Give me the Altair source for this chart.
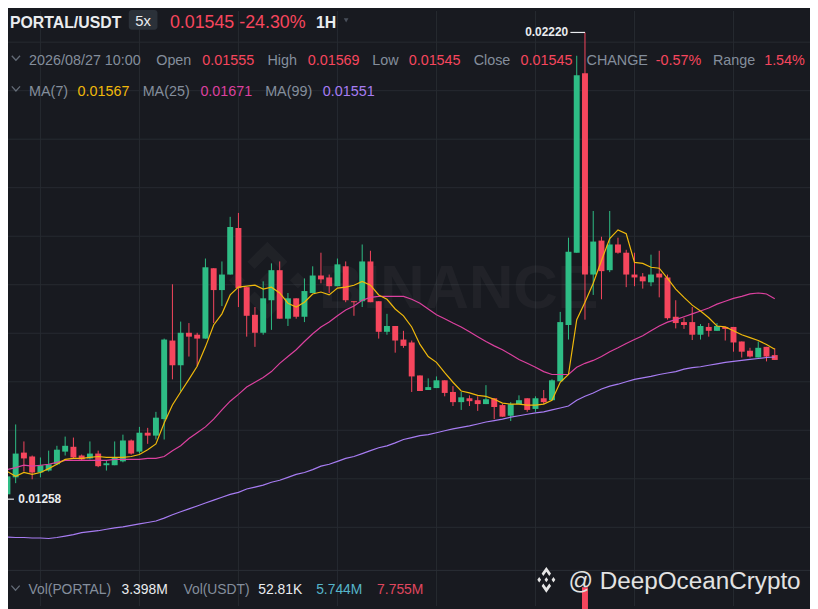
import altair as alt
import pandas as pd

# ---------------- values ----------------
candle_index = list(range(95))

open_price = [
    0.01295, 0.01268, 0.01303, 0.01354, 0.01346, 0.01313, 0.01317, 0.01330, 0.01356, 0.01366,
    0.01348, 0.01342, 0.01352, 0.01328, 0.01328, 0.01336, 0.01379, 0.01356, 0.01395, 0.01389,
    0.01423, 0.01585, 0.01534, 0.01601, 0.01597, 0.01589, 0.01734, 0.01689, 0.01721, 0.01817,
    0.01695, 0.01638, 0.01601, 0.01668, 0.01730, 0.01630, 0.01672, 0.01634, 0.01683, 0.01719,
    0.01715, 0.01697, 0.01738, 0.01666, 0.01666, 0.01748, 0.01666, 0.01603, 0.01615, 0.01587,
    0.01581, 0.01513, 0.01483, 0.01487, 0.01503, 0.01479, 0.01458, 0.01466, 0.01462, 0.01454,
    0.01466, 0.01452, 0.01430, 0.01454, 0.01466, 0.01444, 0.01466, 0.01462, 0.01501, 0.01617,
    0.01766, 0.02136, 0.01721, 0.01791, 0.01730, 0.01783, 0.01766, 0.01721, 0.01717, 0.01705,
    0.01723, 0.01715, 0.01634, 0.01623, 0.01623, 0.01597, 0.01613, 0.01605, 0.01613, 0.01613,
    0.01583, 0.01564, 0.01550, 0.01572, 0.01555]

high_price = [
    0.01301, 0.01313, 0.01412, 0.01377, 0.01348, 0.01344, 0.01358, 0.01368, 0.01387, 0.01385,
    0.01350, 0.01377, 0.01358, 0.01338, 0.01377, 0.01391, 0.01381, 0.01407, 0.01405, 0.01438,
    0.01589, 0.01701, 0.01624, 0.01621, 0.01601, 0.01754, 0.01734, 0.01748, 0.01840, 0.01848,
    0.01695, 0.01654, 0.01707, 0.01744, 0.01748, 0.01683, 0.01672, 0.01713, 0.01738, 0.01766,
    0.01721, 0.01754, 0.01748, 0.01666, 0.01783, 0.01770, 0.01666, 0.01640, 0.01615, 0.01605,
    0.01585, 0.01513, 0.01507, 0.01511, 0.01503, 0.01491, 0.01479, 0.01472, 0.01470, 0.01493,
    0.01466, 0.01454, 0.01458, 0.01472, 0.01466, 0.01470, 0.01483, 0.01505, 0.01644, 0.01797,
    0.02172, 0.02220, 0.01852, 0.01799, 0.01852, 0.01797, 0.01772, 0.01766, 0.01724, 0.01762,
    0.01770, 0.01721, 0.01668, 0.01632, 0.01654, 0.01619, 0.01621, 0.01621, 0.01613, 0.01613,
    0.01583, 0.01570, 0.01583, 0.01572, 0.01569]

low_price = [
    0.01262, 0.01258, 0.01291, 0.01315, 0.01299, 0.01303, 0.01315, 0.01328, 0.01348, 0.01342,
    0.01338, 0.01340, 0.01324, 0.01317, 0.01328, 0.01334, 0.01350, 0.01352, 0.01372, 0.01381,
    0.01381, 0.01505, 0.01480, 0.01552, 0.01532, 0.01589, 0.01621, 0.01656, 0.01721, 0.01654,
    0.01593, 0.01572, 0.01597, 0.01607, 0.01630, 0.01615, 0.01630, 0.01623, 0.01683, 0.01703,
    0.01683, 0.01697, 0.01664, 0.01636, 0.01654, 0.01664, 0.01589, 0.01597, 0.01560, 0.01570,
    0.01479, 0.01481, 0.01483, 0.01487, 0.01470, 0.01450, 0.01442, 0.01450, 0.01440, 0.01454,
    0.01423, 0.01428, 0.01419, 0.01454, 0.01438, 0.01438, 0.01454, 0.01462, 0.01501, 0.01587,
    0.01766, 0.01628, 0.01679, 0.01670, 0.01726, 0.01764, 0.01695, 0.01697, 0.01692, 0.01697,
    0.01674, 0.01628, 0.01610, 0.01609, 0.01586, 0.01587, 0.01593, 0.01605, 0.01585, 0.01562,
    0.01550, 0.01550, 0.01550, 0.01542, 0.01545]

close_price = [
    0.01266, 0.01305, 0.01352, 0.01342, 0.01313, 0.01328, 0.01330, 0.01360, 0.01368, 0.01344,
    0.01340, 0.01352, 0.01326, 0.01332, 0.01344, 0.01379, 0.01352, 0.01395, 0.01389, 0.01426,
    0.01587, 0.01534, 0.01601, 0.01593, 0.01589, 0.01736, 0.01689, 0.01721, 0.01819, 0.01693,
    0.01636, 0.01601, 0.01672, 0.01730, 0.01630, 0.01672, 0.01634, 0.01687, 0.01719, 0.01711,
    0.01697, 0.01742, 0.01668, 0.01664, 0.01748, 0.01664, 0.01603, 0.01615, 0.01585, 0.01574,
    0.01511, 0.01481, 0.01489, 0.01503, 0.01477, 0.01458, 0.01468, 0.01460, 0.01454, 0.01464,
    0.01448, 0.01428, 0.01454, 0.01462, 0.01442, 0.01466, 0.01458, 0.01503, 0.01623, 0.01768,
    0.02132, 0.01721, 0.01789, 0.01728, 0.01783, 0.01766, 0.01721, 0.01715, 0.01707, 0.01721,
    0.01715, 0.01631, 0.01621, 0.01617, 0.01597, 0.01615, 0.01605, 0.01615, 0.01609, 0.01581,
    0.01562, 0.01552, 0.01570, 0.01552, 0.01545]

ma7 = [
    0.01323, 0.01315, 0.01305, 0.01313, 0.01309, 0.01313, 0.01321, 0.01330, 0.01340, 0.01342,
    0.01342, 0.01344, 0.01346, 0.01344, 0.01344, 0.01344, 0.01346, 0.01350, 0.01360, 0.01372,
    0.01415, 0.01452, 0.01479, 0.01505, 0.01532, 0.01572, 0.01617, 0.01640, 0.01679, 0.01695,
    0.01697, 0.01699, 0.01691, 0.01695, 0.01683, 0.01662, 0.01654, 0.01664, 0.01681, 0.01685,
    0.01679, 0.01693, 0.01695, 0.01699, 0.01707, 0.01699, 0.01679, 0.01670, 0.01650, 0.01636,
    0.01613, 0.01577, 0.01552, 0.01540, 0.01519, 0.01499, 0.01481, 0.01477, 0.01472, 0.01470,
    0.01464, 0.01456, 0.01454, 0.01454, 0.01452, 0.01452, 0.01454, 0.01462, 0.01499, 0.01515,
    0.01628, 0.01664, 0.01703, 0.01750, 0.01795, 0.01813, 0.01805, 0.01746, 0.01744, 0.01736,
    0.01734, 0.01713, 0.01691, 0.01674, 0.01658, 0.01646, 0.01632, 0.01615, 0.01613, 0.01605,
    0.01597, 0.01591, 0.01585, 0.01577, 0.01567]

ma25 = [
    0.01315, 0.01319, 0.01323, 0.01328, 0.01326, 0.01328, 0.01330, 0.01334, 0.01338, 0.01338,
    0.01338, 0.01338, 0.01338, 0.01338, 0.01340, 0.01340, 0.01340, 0.01340, 0.01342, 0.01342,
    0.01346, 0.01358, 0.01368, 0.01383, 0.01395, 0.01407, 0.01423, 0.01442, 0.01460, 0.01474,
    0.01489, 0.01499, 0.01509, 0.01521, 0.01538, 0.01552, 0.01566, 0.01583, 0.01599, 0.01613,
    0.01623, 0.01636, 0.01648, 0.01656, 0.01668, 0.01674, 0.01676, 0.01676, 0.01676, 0.01676,
    0.01670, 0.01662, 0.01650, 0.01638, 0.01630, 0.01621, 0.01613, 0.01603, 0.01593, 0.01583,
    0.01574, 0.01566, 0.01556, 0.01546, 0.01538, 0.01530, 0.01521, 0.01515, 0.01515, 0.01515,
    0.01530, 0.01538, 0.01544, 0.01552, 0.01562, 0.01570, 0.01579, 0.01587, 0.01595, 0.01605,
    0.01615, 0.01623, 0.01628, 0.01634, 0.01640, 0.01646, 0.01652, 0.01660, 0.01666, 0.01672,
    0.01676, 0.01681, 0.01683, 0.01681, 0.01671]

ma99 = [
    0.01181, 0.01180, 0.01179, 0.01179, 0.01178, 0.01178, 0.01177, 0.01179, 0.01182, 0.01185,
    0.01189, 0.01191, 0.01193, 0.01196, 0.01199, 0.01201, 0.01204, 0.01207, 0.01210, 0.01213,
    0.01219, 0.01226, 0.01232, 0.01238, 0.01244, 0.01250, 0.01256, 0.01262, 0.01268, 0.01272,
    0.01279, 0.01283, 0.01287, 0.01293, 0.01297, 0.01303, 0.01309, 0.01313, 0.01319, 0.01326,
    0.01330, 0.01336, 0.01342, 0.01346, 0.01352, 0.01358, 0.01364, 0.01368, 0.01374, 0.01381,
    0.01385, 0.01389, 0.01391, 0.01395, 0.01399, 0.01403, 0.01406, 0.01409, 0.01413, 0.01417,
    0.01420, 0.01423, 0.01427, 0.01430, 0.01433, 0.01436, 0.01438, 0.01442, 0.01446, 0.01450,
    0.01462, 0.01470, 0.01477, 0.01485, 0.01491, 0.01495, 0.01500, 0.01505, 0.01508, 0.01511,
    0.01515, 0.01518, 0.01521, 0.01526, 0.01529, 0.01531, 0.01534, 0.01537, 0.01540, 0.01542,
    0.01544, 0.01546, 0.01548, 0.01550, 0.01551]

grid_prices = [0.012, 0.013, 0.014, 0.015, 0.016, 0.017, 0.018, 0.019, 0.020, 0.021, 0.022]
grid_candles = [5, 17, 29, 41, 53, 65, 77, 89]

vol_candle = [71]
vol_millions = [125.0]

high_mark_candle = [71]
high_mark_price = [0.02220]
high_mark_label = ["0.02220"]
low_mark_candle = [1]
low_mark_price = [0.01258]
low_mark_label = ["0.01258"]

# ---------------- layout / style ----------------
OFF = 8                 # page margin
W, H = 810, 601         # plot area
X0, STEP = -0.93, 8.3333   # screen x of candle 0, candle spacing
Y_REF, P_REF, PX_PER_UNIT = 480.5, 0.013, 49000.0
VOL_BASE, VOL_PX_PER_M = 640.0, 0.4

BG = "#181A20"
GRID = "#262A31"
GREEN, RED = "#2EBD85", "#F6465D"
YEL, PINK, PURP = "#F0B90B", "#DC419F", "#A77CF2"
GRAY, WHITE = "#848E9C", "#EAECEF"
FONT = "Liberation Sans"

xd = [(OFF - X0) / STEP, (W + OFF - X0) / STEP]
yd = [P_REF + (Y_REF - OFF - H) / PX_PER_UNIT, P_REF + (Y_REF - OFF) / PX_PER_UNIT]
vd = [(VOL_BASE - OFF - H) / VOL_PX_PER_M, (VOL_BASE - OFF) / VOL_PX_PER_M]

xs = alt.Scale(domain=xd, nice=False, zero=False)
ys = alt.Scale(domain=yd, nice=False, zero=False)
vs = alt.Scale(domain=vd, nice=False, zero=False)

X = lambda f: alt.X(f, type="quantitative", scale=xs, axis=None)
Y = lambda f: alt.Y(f, type="quantitative", scale=ys, axis=None)

df = pd.DataFrame({"candle": candle_index, "open": open_price, "high": high_price,
                   "low": low_price, "close": close_price})
up = df[df["close"] >= df["open"]]
down = df[df["close"] < df["open"]]
ONE = pd.DataFrame({"k": [0]})


def label(txt, x, y, size, color, weight="normal", align="left", font=FONT, opacity=1.0):
    return alt.Chart(ONE).mark_text(
        align=align, baseline="alphabetic", fontSize=size, font=font,
        fontWeight=weight, color=color, opacity=opacity
    ).encode(x=alt.value(x - OFF), y=alt.value(y - OFF), text=alt.value(txt))


def chevron(x, y):
    return alt.Chart(ONE).mark_point(
        shape="M -1 -0.55 L 0 0.55 L 1 -0.55", filled=False, size=70,
        strokeWidth=1.3, color=GRAY
    ).encode(x=alt.value(x - OFF), y=alt.value(y - OFF))


def logo_path(k):
    pts = [
        [(0, -1), (0.52, -0.48), (0.33, -0.29), (0, -0.62), (-0.33, -0.29), (-0.52, -0.48)],
        [(0, 1), (0.52, 0.48), (0.33, 0.29), (0, 0.62), (-0.33, 0.29), (-0.52, 0.48)],
        [(-1, 0), (-0.79, -0.21), (-0.58, 0), (-0.79, 0.21)],
        [(1, 0), (0.79, -0.21), (0.58, 0), (0.79, 0.21)],
        [(0, -0.2), (0.2, 0), (0, 0.2), (-0.2, 0)],
    ]
    out = []
    for poly in pts:
        out.append("M " + " L ".join(f"{px * k:.3f} {py:.3f}" for px, py in poly) + " Z")
    return " ".join(out)


def logo(x, y, height, k, color, opacity):
    return alt.Chart(ONE).mark_point(
        shape=logo_path(k), filled=True, size=height * height, color=color,
        opacity=opacity, strokeWidth=0
    ).encode(x=alt.value(x - OFF), y=alt.value(y - OFF))


layers = []

# grid
layers.append(alt.Chart(pd.DataFrame({"candle": grid_candles})).mark_rule(
    color=GRID, strokeWidth=1).encode(x=X("candle"), y=alt.value(0), y2=alt.value(H)))
layers.append(alt.Chart(pd.DataFrame({"price": grid_prices})).mark_rule(
    color=GRID, strokeWidth=1).encode(y=Y("price"), x=alt.value(0), x2=alt.value(W)))
layers.append(alt.Chart(ONE).mark_rule(color="#2B2F36", strokeWidth=1).encode(
    y=alt.value(573 - OFF), x=alt.value(0), x2=alt.value(W)))

# faint BINANCE watermark
layers.append(logo(270, 280, 78, 1.0, "#FFFFFF", 0.035))
layers.append(label("BINANCE", 322, 308, 62, "#FFFFFF", weight="bold", opacity=0.035))

# candles
for part, col in ((up, GREEN), (down, RED)):
    layers.append(alt.Chart(part).mark_rule(color=col, strokeWidth=1).encode(
        x=X("candle"), y=Y("low"), y2="high"))
    layers.append(alt.Chart(part).mark_rule(color=col, strokeWidth=6).encode(
        x=X("candle"), y=Y("open"), y2="close"))

# moving averages
for series, col in ((ma99, PURP), (ma25, PINK), (ma7, YEL)):
    layers.append(alt.Chart(pd.DataFrame({"candle": candle_index, "ma": series})).mark_line(
        color=col, strokeWidth=1.2).encode(x=X("candle"), y=Y("ma")))

# volume (only the spike bar reaches into view)
layers.append(alt.Chart(pd.DataFrame({"candle": vol_candle, "vol": vol_millions})).mark_rule(
    color=RED, strokeWidth=6).encode(
    x=X("candle"), y=alt.Y("vol:Q", scale=vs, axis=None), y2=alt.datum(0)))

# high / low markers
hm = pd.DataFrame({"candle": high_mark_candle, "price": high_mark_price, "t": high_mark_label})
lm = pd.DataFrame({"candle": low_mark_candle, "price": low_mark_price, "t": low_mark_label})
layers.append(alt.Chart(hm).mark_rule(color=WHITE, strokeWidth=1.2).encode(
    x=X("candle"), x2=alt.value(576 - OFF), y=Y("price")))
layers.append(alt.Chart(hm).mark_text(align="right", baseline="middle", dx=-17, fontSize=12,
                                      font=FONT, fontWeight="bold", color=WHITE).encode(
    x=X("candle"), y=Y("price"), text="t:N"))
layers.append(alt.Chart(lm).mark_rule(color=WHITE, strokeWidth=1.2).encode(
    x=X("candle"), x2=alt.value(14 - OFF), y=Y("price")))
layers.append(alt.Chart(lm).mark_text(align="left", baseline="middle", dx=11, fontSize=12,
                                      font=FONT, fontWeight="bold", color=WHITE).encode(
    x=X("candle"), y=Y("price"), text="t:N"))

# header row 1
layers.append(label("PORTAL/USDT", 10, 25, 16, WHITE, weight="bold"))
layers.append(alt.Chart(ONE).mark_rect(color="#2B3139", cornerRadius=3).encode(
    x=alt.value(130 - OFF), x2=alt.value(159 - OFF), y=alt.value(7 - OFF), y2=alt.value(27 - OFF)))
layers.append(label("5x", 144.5, 23, 15, WHITE, align="center"))
layers.append(label("0.01545 -24.30%", 171.5, 25.5, 18, RED))
layers.append(label("1H", 319, 25, 16, WHITE, weight="bold"))
layers.append(alt.Chart(ONE).mark_point(shape="triangle-down", filled=True, size=22,
                                        color="#5E6673").encode(
    x=alt.value(349.5 - OFF), y=alt.value(17.5 - OFF)))

# header row 2
layers.append(chevron(16, 55.5))
row2 = [("2026/08/27 10:00", 29.3, GRAY), ("Open", 157.7, GRAY), ("0.01555", 204.3, RED),
        ("High", 270, GRAY), ("0.01569", 310.7, RED), ("Low", 376, GRAY),
        ("0.01545", 412.7, RED), ("Close", 478.3, GRAY), ("0.01545", 525.7, RED),
        ("CHANGE", 592.3, GRAY), ("-0.57%", 662.3, RED), ("Range", 720, GRAY),
        ("1.54%", 771.7, RED)]
for t, x, c in row2:
    layers.append(label(t, x, 63, 14.5, c))

# header row 3
layers.append(chevron(16, 86.5))
row3 = [("MA(7)", 29.3, GRAY), ("0.01567", 78.3, YEL), ("MA(25)", 144, GRAY),
        ("0.01671", 202.3, PINK), ("MA(99)", 267.7, GRAY), ("0.01551", 326, PURP)]
for t, x, c in row3:
    layers.append(label(t, x, 94, 14.5, c))

# volume row
layers.append(chevron(15.6, 590.7))
rowv = [("Vol(PORTAL)", 28.7, GRAY), ("3.398M", 122.6, WHITE), ("Vol(USDT)", 185.2, GRAY),
        ("52.81K", 260.8, WHITE), ("5.744M", 319.2, "#56B5C9"), ("7.755M", 380.8, "#E0475F")]
for t, x, c in rowv:
    layers.append(label(t, x, 597, 14, c))

# watermark
layers.append(logo(551.7, 582.5, 26, 0.7, "#E6E6E6", 1.0))
layers.append(label("@ DeepOceanCrypto", 574, 592, 24.5, "#E2E2E2"))

chart = alt.layer(*layers).resolve_scale(y="independent").properties(
    width=W, height=H, padding=0, autosize=alt.AutoSizeParams(type="none"),
    background=BG
).configure_view(strokeWidth=0)

chart.save("out.html", embed_options={"renderer": "svg", "actions": False})
